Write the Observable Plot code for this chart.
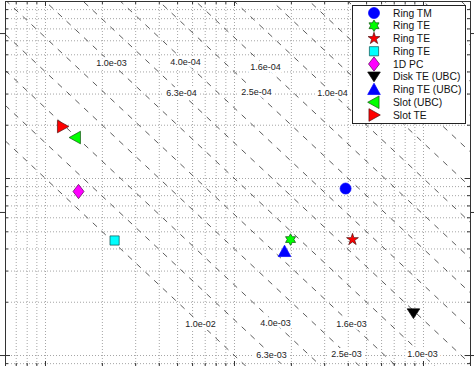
<!DOCTYPE html>
<html><head><meta charset="utf-8">
<script src="https://cdn.jsdelivr.net/npm/d3@7"></script>
<script src="https://cdn.jsdelivr.net/npm/@observablehq/plot@0.6"></script>
<style>
body{margin:0;background:#fff;}
#chart{position:relative;width:474px;height:366px;overflow:hidden;background:#fff}
</style>
</head><body><div id="chart"></div>
<script>
// ---- data ----
const names = ["Ring TM","Ring TE","Ring TE","Ring TE","1D PC","Disk TE (UBC)","Ring TE (UBC)","Slot (UBC)","Slot TE"];
const xVals = [3.87, 1.98, 4.21, 0.232, 0.1495, 8.85, 1.84, 0.144, 0.123];
const yVals = [8780, 4520, 4520, 4465, 8445, 1726, 3870, 17040, 19670];

// contour levels (x*y = 10/level)
const levels = [1.0e-2, 6.3e-3, 4.0e-3, 2.5e-3, 1.6e-3, 1.0e-3, 6.3e-4, 4.0e-4, 2.5e-4, 1.6e-4, 1.0e-4, 6.3e-5, 4.0e-5, 2.5e-5, 1.6e-5, 1.0e-5, 6.3e-6];
const labelText  = ["1.0e-03","4.0e-04","6.3e-04","1.6e-04","2.5e-04","1.0e-04","1.0e-02","4.0e-03","1.6e-03","6.3e-03","2.5e-03","1.0e-03"];
const labelLevel = [1.0e-3, 4.0e-4, 6.3e-4, 1.6e-4, 2.5e-4, 1.0e-4, 1.0e-2, 4.0e-3, 1.6e-3, 6.3e-3, 2.5e-3, 1.0e-3];
const labelX     = [0.2234, 0.5503, 0.5243, 1.459, 1.307, 3.300, 0.6607, 1.648, 4.16, 1.570, 3.917, 9.88];

// secondary (outer) tick values seen on the frame edges
const outerTicks = [65900, 6430, 1000];

// ---- scales ----
const W = 474, H = 366;
const mL = 5, mR = 4, mT = 1, mB = 0;
const xDomain = [0.06143, 17.73];
const yDomain = [867, 1e5];
const innerW = W - mL - mR, innerH = H - mT - mB;

const xTicks = d3.scaleLog().domain(xDomain).ticks();
const yTicks = d3.scaleLog().domain(yDomain).ticks();
const isMajor = v => Math.abs(Math.log10(v) - Math.round(Math.log10(v))) < 1e-9;

// ---- symbols ----
const rad = s => Math.sqrt(s / Math.PI);
const sym = {
  circle: {draw(c, s){const r = rad(s); c.moveTo(r, 0); c.arc(0, 0, r, 0, 2*Math.PI);}},
  square: {draw(c, s){const r = rad(s); c.rect(-r, -r, 2*r, 2*r);}},
  diamond: {draw(c, s){const r = rad(s); c.moveTo(0,-1.3*r); c.lineTo(r,0); c.lineTo(0,1.3*r); c.lineTo(-r,0); c.closePath();}},
  triUp: {draw(c, s){const r = rad(s); c.moveTo(0,-r); c.lineTo(r,0.8*r); c.lineTo(-r,0.8*r); c.closePath();}},
  triDown: {draw(c, s){const r = rad(s); c.moveTo(0,r*0.8); c.lineTo(r,-0.75*r); c.lineTo(-r,-0.75*r); c.closePath();}},
  triLeft: {draw(c, s){const r = rad(s); c.moveTo(-r,0); c.lineTo(0.8*r,-r); c.lineTo(0.8*r,r); c.closePath();}},
  triRight: {draw(c, s){const r = rad(s); c.moveTo(r,0); c.lineTo(-0.8*r,-r); c.lineTo(-0.8*r,r); c.closePath();}},
  hexagram: {draw(c, s){const R = rad(s), ri = R/Math.sqrt(3);
    for (let i = 0; i < 12; i++){const a = -Math.PI/2 + i*Math.PI/6, rr = i%2 ? ri : R;
      i ? c.lineTo(rr*Math.cos(a), rr*Math.sin(a)) : c.moveTo(rr*Math.cos(a), rr*Math.sin(a));}
    c.closePath();}},
  pentagram: {draw(c, s){const R = rad(s), ri = R*0.382;
    for (let i = 0; i < 10; i++){const a = -Math.PI/2 + i*Math.PI/5, rr = i%2 ? ri : R;
      i ? c.lineTo(rr*Math.cos(a), rr*Math.sin(a)) : c.moveTo(rr*Math.cos(a), rr*Math.sin(a));}
    c.closePath();}}
};

const styles = [
  {symbol: sym.circle,   fill: "#0000ff", stroke: "#0000ff", r: 5.5},
  {symbol: sym.hexagram, fill: "#00ff00", stroke: "#105010", r: 5.8},
  {symbol: sym.pentagram,fill: "#ff0000", stroke: "#501010", r: 6.2},
  {symbol: sym.square,   fill: "#00ffff", stroke: "#105050", r: 4.6},
  {symbol: sym.diamond,  fill: "#ff00ff", stroke: "#501050", r: 5.5},
  {symbol: sym.triDown,  fill: "#000000", stroke: "#000000", r: 6.3},
  {symbol: sym.triUp,    fill: "#0000ff", stroke: "#0000ff", r: 6.3},
  {symbol: sym.triLeft,  fill: "#00ff00", stroke: "#105010", r: 6.3},
  {symbol: sym.triRight, fill: "#ff0000", stroke: "#501010", r: 6.3}
];

// contour line data
const contourData = levels.flatMap(l => xDomain.map(x => ({l, x, y: 10 / (l * x)})));
const labelIdx = labelText.map((_, i) => i);

const marks = [
  Plot.gridX(xTicks, {stroke: "#a5a5a5", strokeOpacity: 1, strokeDasharray: "1,2", strokeWidth: 1}),
  Plot.gridY(yTicks, {stroke: "#a5a5a5", strokeOpacity: 1, strokeDasharray: "1,2", strokeWidth: 1}),
  Plot.line(contourData, {x: "x", y: "y", z: "l", stroke: "#333", strokeWidth: 0.8, strokeDasharray: "5,7", clip: true}),
  Plot.text(labelIdx, {x: i => labelX[i], y: i => 10 / (labelLevel[i] * labelX[i]), text: i => labelText[i],
    fontSize: 9, fill: "#222", stroke: "white", strokeWidth: 6, paintOrder: "stroke"}),
  // inward tick marks
  Plot.ruleX(xTicks.filter(v => !isMajor(v)), {x: d => d, insetBottom: innerH - 3, stroke: "#333"}),
  Plot.ruleX(xTicks.filter(isMajor), {x: d => d, insetBottom: innerH - 5, stroke: "#333"}),
  Plot.ruleX(xTicks.filter(v => !isMajor(v)), {x: d => d, insetTop: innerH - 3, stroke: "#333"}),
  Plot.ruleX(xTicks.filter(isMajor), {x: d => d, insetTop: innerH - 5, stroke: "#333"}),
  Plot.ruleY(yTicks.filter(v => !isMajor(v)), {y: d => d, insetRight: innerW - 3, stroke: "#333"}),
  Plot.ruleY(yTicks.filter(isMajor), {y: d => d, insetRight: innerW - 5, stroke: "#333"}),
  Plot.ruleY(yTicks.filter(v => !isMajor(v)), {y: d => d, insetLeft: innerW - 3, stroke: "#333"}),
  Plot.ruleY(yTicks.filter(isMajor), {y: d => d, insetLeft: innerW - 5, stroke: "#333"}),
  // outward ticks
  Plot.ruleY(outerTicks, {y: d => d, x1: xDomain[0], x2: xDomain[0], insetLeft: -5, stroke: "#333"}),
  Plot.ruleY(outerTicks, {y: d => d, x1: xDomain[1], x2: xDomain[1], insetRight: -5, stroke: "#333"}),
  // frame
  Plot.ruleX(xDomain, {stroke: "#333", strokeWidth: 1}),
  Plot.ruleY([yDomain[1]], {stroke: "#333", strokeWidth: 1}),
  // data points
  ...names.map((n, i) => Plot.dot([i], {x: j => xVals[j], y: j => yVals[j],
      symbol: styles[i].symbol, r: styles[i].r, fill: styles[i].fill, stroke: styles[i].stroke, strokeWidth: 0.7}))
];

const chart = Plot.plot({
  width: W, height: H,
  marginLeft: mL, marginRight: mR, marginTop: mT, marginBottom: mB,
  x: {type: "log", domain: xDomain, axis: null},
  y: {type: "log", domain: yDomain, axis: null},
  style: {background: "white", fontFamily: "'Liberation Sans', Arial, Helvetica, sans-serif", overflow: "visible"},
  marks
});
document.getElementById("chart").appendChild(chart);

// ---- legend (inside plot, top-right) ----
const svg = d3.select(chart);
const lg = svg.append("g").attr("class", "legend").attr("text-anchor", "start");
const lx = 352, ly = 5, lw = 113, lh = 118;
lg.append("rect").attr("x", lx + 0.5).attr("y", ly + 0.5).attr("width", lw).attr("height", lh)
  .attr("fill", "white").attr("stroke", "#222").attr("stroke-width", 1);
names.forEach((n, i) => {
  const cy = ly + 8 + i * 12.75;
  const st = styles[i];
  lg.append("path")
    .attr("d", d3.symbol(st.symbol, Math.PI * st.r * st.r)())
    .attr("transform", `translate(${lx + 22},${cy})`)
    .attr("fill", st.fill).attr("stroke", st.stroke).attr("stroke-width", 0.7);
  lg.append("text").attr("x", lx + 41).attr("y", cy).attr("dy", "0.36em")
    .attr("text-anchor", "start")
    .attr("font-size", 10.3).attr("fill", "#111")
    .attr("font-family", "'Liberation Sans', Arial, Helvetica, sans-serif")
    .text(n);
});
</script>
</body></html>
